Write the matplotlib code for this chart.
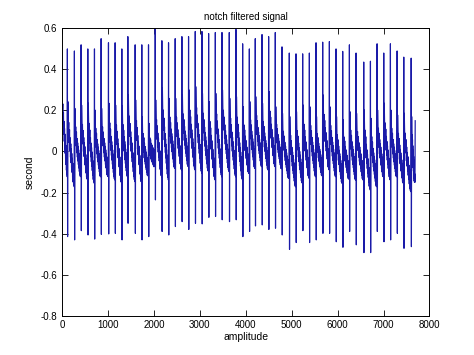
import matplotlib
matplotlib.use('Agg')
import matplotlib.pyplot as plt

# beat (spike) positions in samples
beat_pos = [115, 268, 414, 560, 705, 850, 1010, 1155, 1301, 1432, 1591, 1736,
            1882, 2028, 2173, 2318, 2463, 2609, 2754, 2900, 3046, 3191, 3337, 3482,
            3641, 3787, 3932, 4078, 4207, 4354, 4498,
            4643, 4789, 4948, 5094, 5239, 5385, 5530, 5675, 5821, 5966, 6111, 6257,
            6402, 6569, 6715, 6860, 7005, 7150, 7296, 7441, 7602]

# spike tops
peak_val = [0.50, 0.49, 0.52, 0.50, 0.50, 0.55, 0.53, 0.53, 0.50, 0.56, 0.52, 0.52,
            0.52, 0.60, 0.54, 0.53, 0.55, 0.56, 0.56, 0.585, 0.585, 0.575, 0.58, 0.58,
            0.58, 0.595, 0.525, 0.50, 0.55, 0.57, 0.56,
            0.58, 0.51, 0.48, 0.476, 0.476, 0.48, 0.53, 0.533, 0.536, 0.50, 0.488, 0.52,
            0.48, 0.436, 0.44, 0.525, 0.48, 0.525, 0.49, 0.46, 0.455]

# spike bottoms
trough_val = [-0.415, -0.431, -0.386, -0.407, -0.427, -0.404, -0.402, -0.399, -0.431, -0.350,
              -0.399, -0.431, -0.415, -0.236, -0.390, -0.407, -0.366, -0.342, -0.380, -0.350,
              -0.353, -0.321, -0.317, -0.333, -0.342, -0.333, -0.415, -0.390, -0.363, -0.358,
              -0.380, -0.374, -0.407, -0.477, -0.444, -0.386, -0.444, -0.431, -0.399, -0.399,
              -0.440, -0.467, -0.390, -0.455, -0.493, -0.493, -0.390, -0.440, -0.431, -0.399,
              -0.472, -0.464]

# level right after each spike
rebound_val = [0.243, 0.210, 0.226, 0.235, 0.202, 0.210, 0.235, 0.226, 0.222, 0.275,
               0.251, 0.170, 0.137, 0.251, 0.308, 0.259, 0.259, 0.275, 0.300, 0.316,
               0.283, 0.243, 0.283, 0.300, 0.259, 0.267, 0.218, 0.243, 0.267, 0.235,
               0.291, 0.218, 0.186, 0.170, 0.194, 0.226, 0.218, 0.170, 0.275, 0.218,
               0.170, 0.154, 0.194, 0.186, 0.202, 0.162, 0.202, 0.235, 0.202, 0.178,
               0.186, 0.170]

# level just before each spike
low_val = [-0.123, -0.172, -0.123, -0.139, -0.155, -0.123, -0.123, -0.139, -0.155, -0.123,
           -0.147, -0.155, -0.115, -0.058, -0.123, -0.139, -0.082, -0.090, -0.074, -0.090,
           -0.106, -0.098, -0.139, -0.123, -0.098, -0.123, -0.139, -0.106, -0.082, -0.074,
           -0.090, -0.074, -0.082, -0.131, -0.172, -0.155, -0.131, -0.123, -0.115, -0.090,
           -0.123, -0.155, -0.131, -0.139, -0.139, -0.188, -0.172, -0.123, -0.139, -0.123,
           -0.155, -0.196]

start_val = 0.22
end_pos, end_low, end_val = 7690, -0.15, 0.15

# shape of the ringing between spikes (fraction of interval, wiggle)
ring_frac = [0.08, 0.14, 0.2, 0.26, 0.31, 0.36, 0.41, 0.46, 0.5, 0.54, 0.58, 0.62,
             0.66, 0.7, 0.74, 0.78, 0.82, 0.86, 0.9, 0.94]
ring_wig = [0.0, 0.06, -0.02, 0.06, -0.03, 0.05, -0.03, 0.05, -0.03, 0.05,
            -0.03, 0.05, -0.03, 0.05, -0.03, 0.05, -0.03, 0.05, -0.02, 0.03]

xticks = [0, 1000, 2000, 3000, 4000, 5000, 6000, 7000, 8000]
yticks = [-0.8, -0.6, -0.4, -0.2, 0, 0.2, 0.4, 0.6]
ytick_labels = ['-0.8', '-0.6', '-0.4', '-0.2', '0', '0.2', '0.4', '0.6']

plt.rcParams['font.family'] = ['Liberation Sans', 'DejaVu Sans']

# build the trace vertices
xs, ys = [], []


def ring(x0, x1, y0, y1):
    for f, w in zip(ring_frac, ring_wig):
        xs.append(x0 + f * (x1 - x0))
        ys.append(y0 + f * (y1 - y0) + w)


ring(0, beat_pos[0], start_val, low_val[0])
n = len(beat_pos)
for i in range(n):
    t = beat_pos[i]
    xs += [t - 4, t, t + 5, t + 11]
    ys += [low_val[i], peak_val[i], trough_val[i], rebound_val[i]]
    if i + 1 < n:
        nxt, lo = beat_pos[i + 1], low_val[i + 1]
    else:
        nxt, lo = end_pos - 5, end_low
    ring(t + 11, nxt - 4, rebound_val[i] - 0.12, lo)
xs += [end_pos - 5, end_pos]
ys += [end_low, end_val]

fig = plt.figure(figsize=(4.74, 3.55), dpi=100)
ax = fig.add_axes([0.131, 0.111, 0.775, 0.809])
ax.plot(xs, ys, color='#1a1aa8', linewidth=0.85)

ax.set_xlim(0, 8000)
ax.set_ylim(-0.8, 0.6)
ax.set_xticks(xticks)
ax.set_xticklabels([str(v) for v in xticks])
ax.set_yticks(yticks)
ax.set_yticklabels(ytick_labels)
ax.tick_params(direction='in', top=True, right=True, length=4, width=0.6, labelsize=7)
for s in ax.spines.values():
    s.set_linewidth(0.7)

ax.set_title('notch filtered signal', fontsize=7, pad=6)
ax.set_xlabel('amplitude', fontsize=7.5, labelpad=1)
ax.set_ylabel('second', fontsize=7.5, labelpad=4)

fig.savefig('out.png', dpi=100)
